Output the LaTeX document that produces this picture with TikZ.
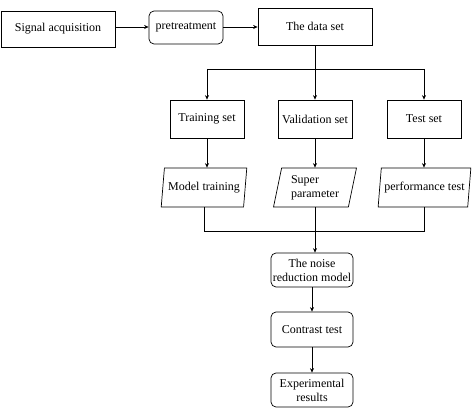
\documentclass[tikz,border=0pt]{standalone}
\usepackage{fontspec}
\setmainfont{Liberation Serif}
\usetikzlibrary{shapes.geometric,arrows.meta}
\begin{document}
\begin{tikzpicture}[x=1pt,y=-1pt,
  every node/.style={font=\fontsize{12}{13.8}\selectfont, inner sep=1pt},
  box/.style={draw, line width=0.7pt, minimum width=#1, minimum height=37pt},
  rbox/.style={draw, line width=0.7pt, rounded corners=5pt, minimum width=82pt, minimum height=34pt, align=center},
  para/.style={draw, line width=0.7pt, trapezium, trapezium left angle=77, trapezium right angle=103,
     trapezium stretches=true, minimum width=#1, minimum height=39pt, align=left},
  conn/.style={line width=0.8pt},
  arr/.style={conn, -{Stealth[length=4.5pt,width=4pt]}}]
\useasboundingbox (0,0) rectangle (474,414);

\node[box=114pt, minimum height=36pt] (sig) at (58,29) {Signal acquisition};
\node[draw, line width=0.7pt, rounded corners=5pt, minimum width=74pt, minimum height=33pt] (pre) at (186,27.5) {pretreatment};
\node[box=114pt] (data) at (315,26.5) {The data set};

\node[box=74pt, minimum height=38pt] (train) at (207,119) {Training set};
\node[box=74pt, minimum height=38pt] (val) at (315,119) {Validation set};
\node[box=74pt, minimum height=38pt] (test) at (424,119) {Test set};

\node[para=86pt] (mt) at (204,187.5) {Model training};
\node[para=83pt] (sp) at (315,187.5) {Super\\parameter};
\node[para=93pt] (pt) at (424.5,187.5) {performance test};

\node[rbox] (noise) at (312,270) {The noise\\reduction model};
\node[rbox, minimum height=35pt] (con) at (312,329.5) {Contrast test};
\node[rbox] (exp) at (312,390) {Experimental\\results};

\coordinate (split) at (315,69);
\coordinate (join) at (315,231);

\draw[arr] (sig.east |- 0,27) -- (pre.west |- 0,27);
\draw[arr] (pre.east |- 0,27) -- (data.west |- 0,27);
\draw[arr] (data.south) -- (val.north);
\draw[conn] (train.north |- split) -- (test.north |- split);
\draw[arr] (train.north |- split) -- (train.north);
\draw[arr] (test.north |- split) -- (test.north);

\draw[arr] (train.south) -- (train.south |- mt.north);
\draw[arr] (val.south) -- (val.south |- sp.north);
\draw[arr] (test.south) -- (test.south |- pt.north);

\draw[conn] (mt.south) -- (mt.south |- join) -- (pt.south |- join) -- (pt.south);
\draw[arr] (sp.south) -- (sp.south |- noise.north);
\draw[arr] (noise.south) -- (con.north);
\draw[arr] (con.south) -- (exp.north);
\end{tikzpicture}
\end{document}
